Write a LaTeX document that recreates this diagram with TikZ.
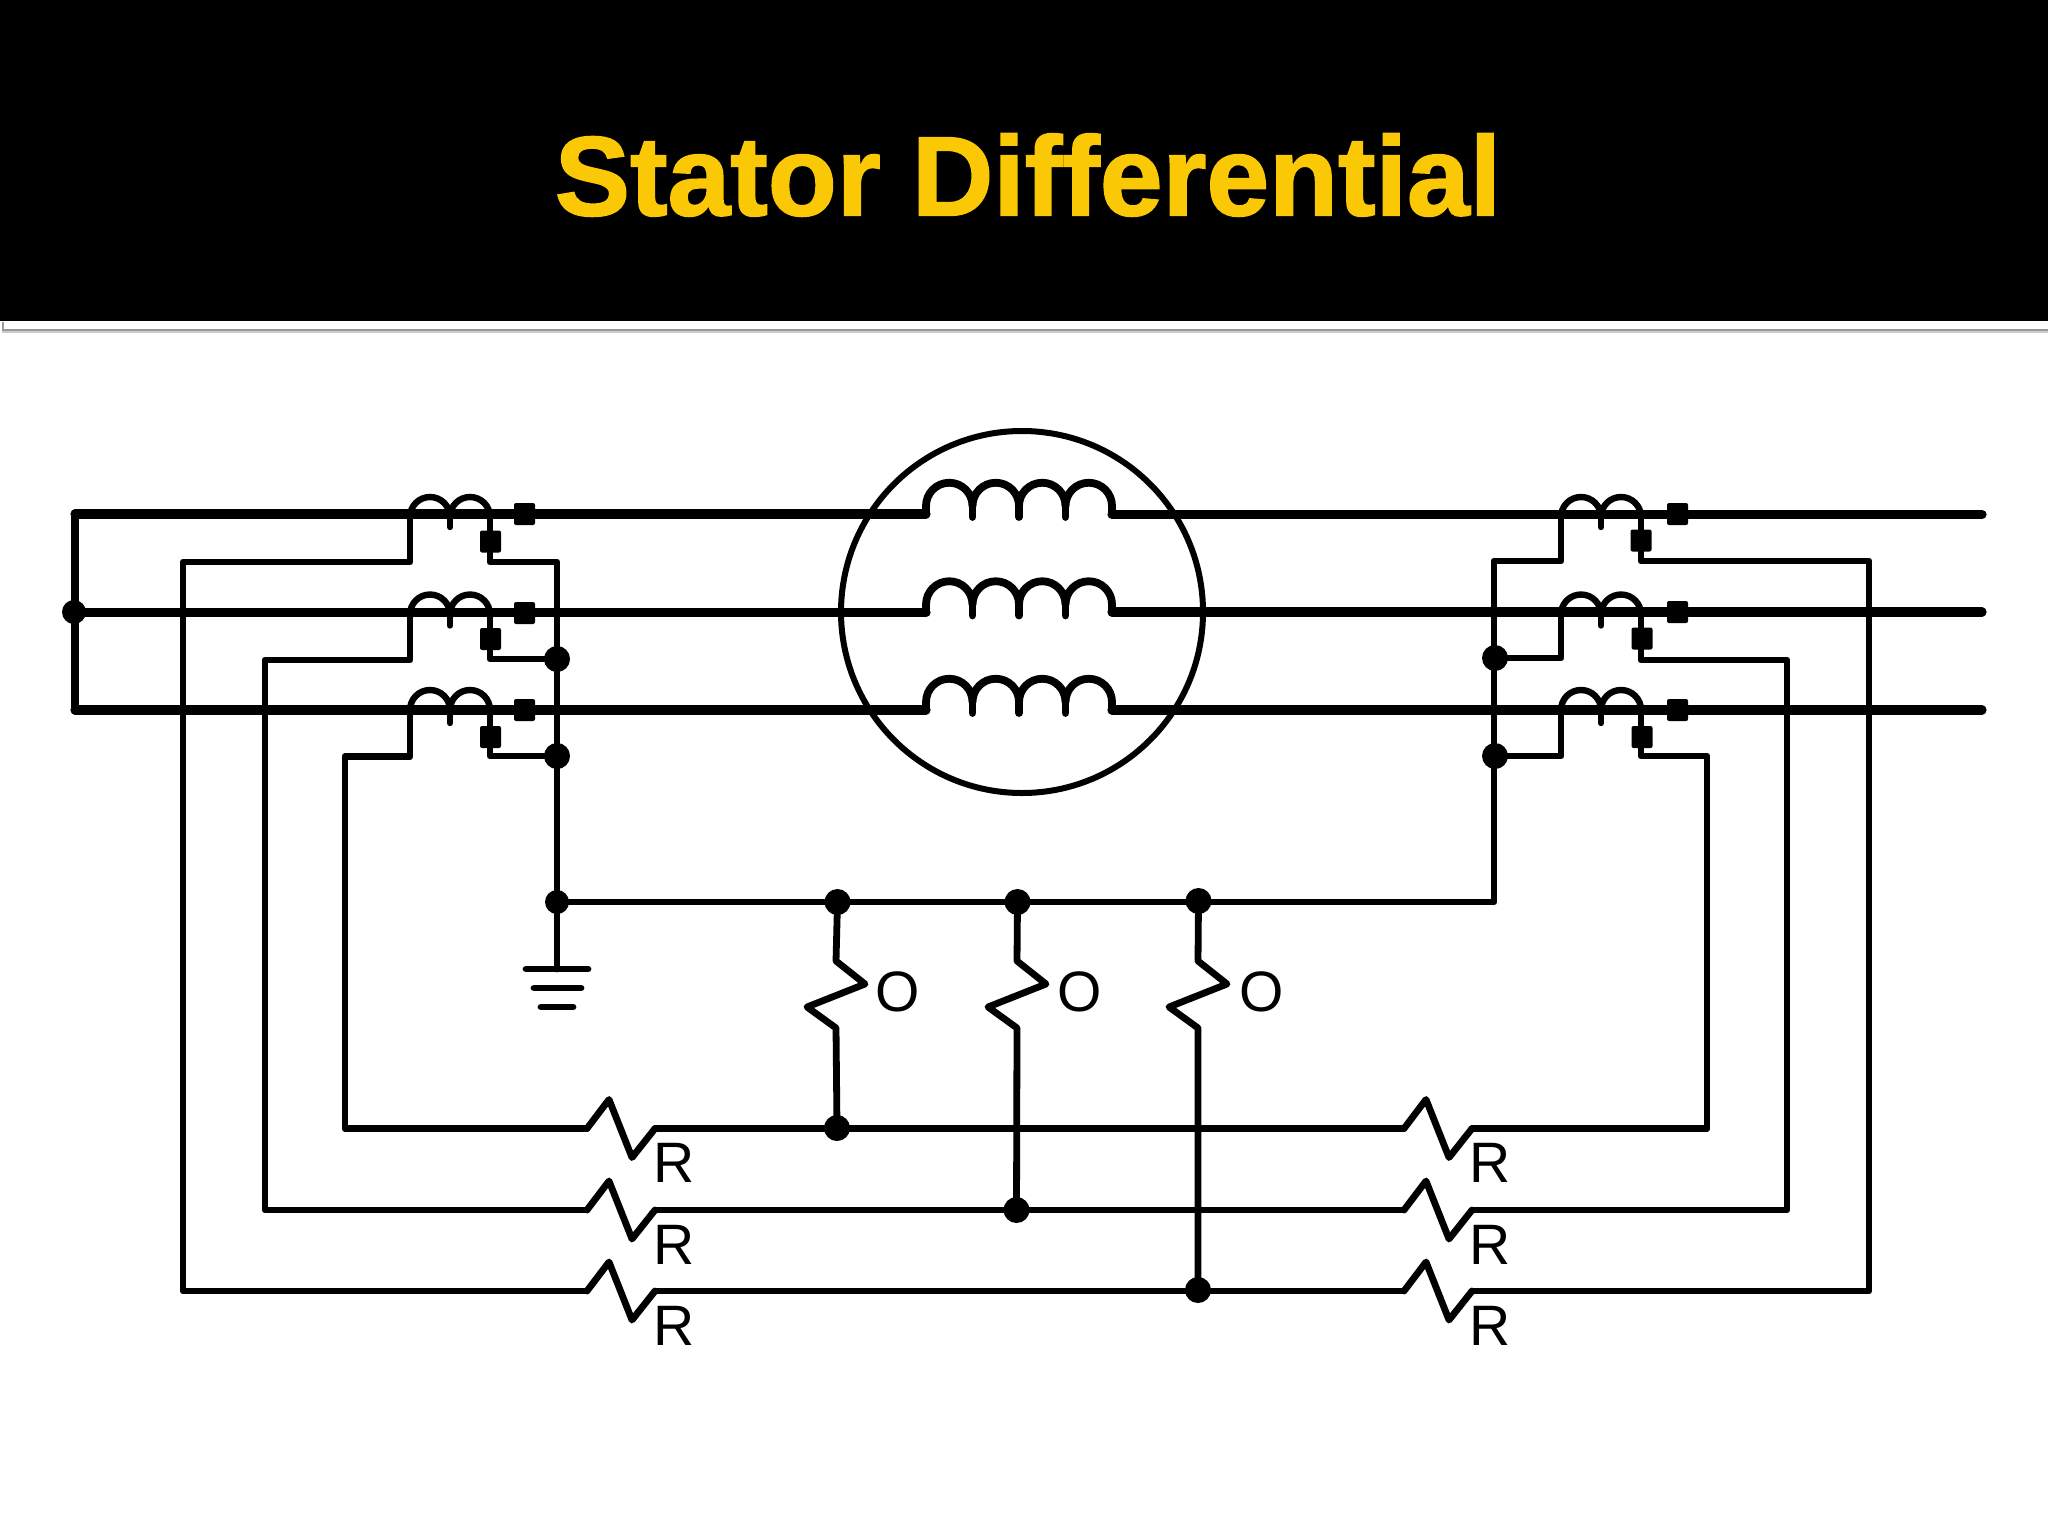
\documentclass[tikz,border=0pt]{standalone}
\usepackage{fontspec}
\setmainfont{Liberation Sans}
\newfontfamily\titlefont[FakeBold=1.5,Ligatures=NoCommon]{Liberation Sans Bold}
\definecolor{titlegold}{RGB}{250,200,5}
\tikzset{
  x=0.5pt,y=-0.5pt,
  bus/.style={line width=4.6pt,line cap=round,line join=round},
  wire/.style={line width=3.4pt,line cap=round,line join=round},
  coil/.style={line width=3.9pt,line cap=round,line join=round},
  ctcoil/.style={line width=3.2pt,line cap=round,line join=round},
  joint/.style={circle,fill=black,inner sep=0pt,minimum size=13pt},
  smalljoint/.style={circle,fill=black,inner sep=0pt,minimum size=12pt},
  polarity/.style={rectangle,rounded corners=1pt,fill=black,inner sep=0pt,minimum width=10.5pt,minimum height=11pt},
  lbl/.style={inner sep=0pt,font=\fontsize{28.5pt}{28.5pt}\selectfont},
}
\newcommand{\statorcoil}[1]{%
  \draw[coil] (926,#1) -- (926,#1-8) arc[start angle=180,end angle=360,radius=23.25]
     arc[start angle=180,end angle=360,radius=23.25]
     arc[start angle=180,end angle=360,radius=23.25]
     arc[start angle=180,end angle=360,radius=23.25] -- (1112,#1);
  \draw[coil] (972.5,#1-8) -- (972.5,#1+3);
  \draw[coil] (1019,#1-8) -- (1019,#1+3);
  \draw[coil] (1065.5,#1-8) -- (1065.5,#1+3);
}
\newcommand{\ctcoil}[3]{% left x, line y, peak-to-line offset
  \draw[ctcoil] (#1,#2) -- (#1,#2-#3+20) arc[start angle=180,end angle=360,radius=20]
     arc[start angle=180,end angle=360,radius=20] -- (#1+80,#2);
  \draw[ctcoil] (#1+40,#2-#3+20) -- (#1+40,#2+13);
}
\newcommand{\loadres}[2]{% left x, y
  \draw[wire] (#1,#2) -- (#1+22,#2-29) -- (#1+45,#2+29) -- (#1+68,#2);
}
\begin{document}
\begin{tikzpicture}
\useasboundingbox (0,0) rectangle (2048,1536);
\fill[white] (0,0) rectangle (2048,1536);
% header
\fill[black] (0,0) rectangle (2048,321);
\fill[black!40] (2,329) rectangle (2048,331);
\fill[black!20] (2,331) rectangle (2048,333);
\fill[black!40] (2,322) rectangle (4,330);
\node[inner sep=0pt,text=titlegold,font=\fontsize{56.4pt}{56.4pt}\titlefont] (title) at (1028,175) {Stator Differential};

% coordinates
\coordinate (L1) at (75,514);
\coordinate (L2) at (75,612.5);
\coordinate (L3) at (75,710);
\coordinate (R1) at (1982,514.5);
\coordinate (R2) at (1982,612);
\coordinate (R3) at (1982,710);

% stator circle
\node[circle,draw,line width=3pt,minimum size=181pt,inner sep=0pt] (stator) at (1022,612) {};

% main lines
\draw[bus] (L1) -- (926,514) (1112,514.5) -- (R1);
\draw[bus] (L2) -- (926,612.5) (1112,612) -- (R2);
\draw[bus] (L3) -- (926,710) (1112,710) -- (R3);
\draw[line width=4pt,line cap=round] (L1) -- (L3);
\node[smalljoint] (jstar) at (74,612) {};
\statorcoil{514}
\statorcoil{612.5}
\statorcoil{710}

% left CTs
\ctcoil{410}{514}{17}
\ctcoil{410}{612.5}{18}
\ctcoil{410}{710}{20}
\node[polarity] (lb1) at (490.5,541.5) {};
\node[polarity] (lb2) at (490.5,639) {};
\node[polarity] (lb3) at (490.5,737) {};
\node[polarity] (ls1) at (524.5,514) {};
\node[polarity] (ls2) at (524.5,613) {};
\node[polarity] (ls3) at (524.5,710) {};
% right CTs
\ctcoil{1561}{514}{17}
\ctcoil{1561}{612.5}{18}
\ctcoil{1561}{710}{20}
\node[polarity] (rb1) at (1641,540.5) {};
\node[polarity] (rb2) at (1642,638.5) {};
\node[polarity] (rb3) at (1642,737) {};
\node[polarity] (rs1) at (1677.5,514) {};
\node[polarity] (rs2) at (1677.5,612) {};
\node[polarity] (rs3) at (1677.5,710) {};

% junctions
\node[joint] (ldot2) at (557,659) {};
\node[joint] (ldot3) at (557,756) {};
\node[smalljoint] (lneu) at (557,902) {};
\node[joint] (rdot2) at (1495,658) {};
\node[joint] (rdot3) at (1495,756) {};
\node[joint] (nA) at (837.5,902) {};
\node[joint] (nB) at (1017.5,902) {};
\node[joint] (nC) at (1198.5,901) {};
\node[joint] (sA) at (837,1128) {};
\node[joint] (sB) at (1016.5,1210) {};
\node[joint] (sC) at (1198,1290) {};

% CT secondary to neutral buses
\draw[wire] (490,514) -- (490,562) -- (557,562) -- (lneu.center);
\draw[wire] (490,612) -- (490,659) -- (ldot2.center);
\draw[wire] (490,710) -- (490,756) -- (ldot3.center);
\draw[wire] (1641,514) -- (1641,561) -- (1869,561) -- (1869,1291) -- (1472,1291);
\draw[wire] (1641,612) -- (1641,660) -- (1787,660) -- (1787,1210) -- (1472,1210);
\draw[wire] (1641,710) -- (1641,756) -- (1707,756) -- (1707,1128.5) -- (1472,1128.5);
\draw[wire] (1561,514) -- (1561,561) -- (1494,561) -- (1494,902) -- (lneu.center);
\draw[wire] (1561,612) -- (1561,658) -- (rdot2.center);
\draw[wire] (1561,710) -- (1561,756) -- (rdot3.center);

% left secondary wires
\draw[wire] (410,514) -- (410,562) -- (183,562) -- (183,1291) -- (587,1291);
\draw[wire] (410,612) -- (410,660) -- (265,660) -- (265,1210) -- (587,1210);
\draw[wire] (410,710) -- (410,756.5) -- (345,756.5) -- (345,1128.5) -- (587,1128.5);

% series resistors
\loadres{587}{1128.5}
\loadres{587}{1210}
\loadres{587}{1291}
\loadres{1404}{1128.5}
\loadres{1404}{1210}
\loadres{1404}{1291}
\draw[wire] (655,1128.5) -- (1404,1128.5);
\draw[wire] (655,1210) -- (1404,1210);
\draw[wire] (655,1291) -- (1404,1291);

% operate elements
\draw[wire] (nA.center) -- (836,961) -- (865,984) -- (807,1007) -- (836,1028) -- (sA.center);
\draw[wire] (nB.center) -- (1017,961) -- (1046,984) -- (988,1007) -- (1017,1028) -- (sB.center);
\draw[wire] (nC.center) -- (1198,961) -- (1227,984) -- (1169,1007) -- (1198,1028) -- (sC.center);

% ground
\coordinate (gnd) at (557,969);
\draw[wire] (lneu.center) -- (gnd);
\draw[wire] (526,969) -- (588,969);
\draw[wire] (534,988) -- (581,988);
\draw[wire] (541,1007) -- (573,1007);

% labels
\node[lbl] (oa) at (898,992) {O};
\node[lbl] (ob) at (1080,992) {O};
\node[lbl] (oc) at (1262,992) {O};
\node[lbl] (ra1) at (674,1163) {R};
\node[lbl] (ra2) at (674,1245) {R};
\node[lbl] (ra3) at (674,1326) {R};
\node[lbl] (rb1t) at (1490,1163) {R};
\node[lbl] (rb2t) at (1490,1245) {R};
\node[lbl] (rb3t) at (1490,1326) {R};
\end{tikzpicture}
\end{document}
